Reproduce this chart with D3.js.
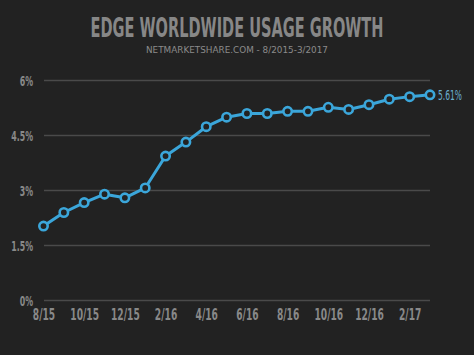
<!DOCTYPE html>
<html><head><meta charset="utf-8">
<script src="https://cdn.jsdelivr.net/npm/d3@7"></script>
<style>
html,body{margin:0;padding:0;background:#222222;}
svg{display:block;}
text{font-family:"DejaVu Sans",sans-serif;}
</style></head>
<body>
<svg id="c" width="474" height="355"></svg>
<script>
const months = ["8/15","9/15","10/15","11/15","12/15","1/16","2/16","3/16","4/16","5/16","6/16","7/16","8/16","9/16","10/16","11/16","12/16","1/17","2/17","3/17"];
const usage = [2.03,2.40,2.67,2.90,2.80,3.07,3.94,4.32,4.74,5.00,5.10,5.10,5.16,5.16,5.27,5.21,5.34,5.49,5.56,5.61];
const xTickLabels = ["8/15","10/15","12/15","2/16","4/16","6/16","8/16","10/16","12/16","2/17"];
const yTicks = [0,1.5,3,4.5,6];
const yTickLabels = ["0%","1.5%","3%","4.5%","6%"];
const title = "EDGE WORLDWIDE USAGE GROWTH";
const subtitle = "NETMARKETSHARE.COM - 8/2015-3/2017";
const endLabel = "5.61%";

const svg = d3.select("#c");
const x = d3.scalePoint().domain(months).range([43.5,430]);
const y = d3.scaleLinear().domain([0,6]).range([300.5,80.5]);
const ky = 0.56, kx = 0.57; // horizontal condensing of label glyphs

svg.append("text").attr("x",237).attr("y",37).attr("text-anchor","middle")
  .attr("fill","#878787").attr("font-size",26).attr("font-weight","bold")
  .attr("textLength",293).attr("lengthAdjust","spacingAndGlyphs").text(title);
svg.append("text").attr("x",237).attr("y",53).attr("text-anchor","middle")
  .attr("fill","#8b8b8b").attr("font-size",9).attr("font-family","Lato, sans-serif")
  .attr("textLength",182).attr("lengthAdjust","spacingAndGlyphs").text(subtitle);

// grid
svg.append("g").selectAll("line").data(yTicks).join("line")
  .attr("x1",44).attr("x2",430).attr("y1",d=>y(d)).attr("y2",d=>y(d))
  .attr("stroke","#4a4a4a").attr("stroke-width",1.5);
const yAxis = d3.axisLeft(y).tickValues(yTicks).tickSize(0)
  .tickFormat((d,i)=>yTickLabels[i]).tickPadding(11);
const gy = svg.append("g").attr("transform","translate(44,0)").call(yAxis);
gy.select(".domain").remove();
gy.selectAll("text").attr("fill","#898989").attr("font-size",14).attr("font-weight","bold")
  .attr("font-family",null).attr("dy","0.35em")
  .attr("x",-11/ky).attr("transform",`scale(${ky},1)`);

const xAxis = d3.axisBottom(x).tickValues(xTickLabels).tickSize(0).tickPadding(7);
const gx = svg.append("g").attr("transform","translate(0,302)").call(xAxis);
gx.select(".domain").remove();
gx.selectAll("text").attr("fill","#898989").attr("font-size",16).attr("font-weight","bold")
  .attr("font-family",null).attr("transform",`scale(${kx},1)`);

const line = d3.line().x((d,i)=>x(months[i])).y(d=>y(d));
svg.append("path").datum(usage).attr("d",line).attr("fill","none")
  .attr("stroke","#3ba6da").attr("stroke-width",3).attr("stroke-linejoin","round");
svg.append("g").selectAll("circle").data(usage).join("circle")
  .attr("cx",(d,i)=>x(months[i])).attr("cy",d=>y(d)).attr("r",4.2)
  .attr("fill","#222222").attr("stroke","#3ba6da").attr("stroke-width",2.6);

svg.append("g")
  .attr("transform",`translate(${x(months[months.length-1])+8},${y(usage[usage.length-1])})`)
  .append("text").attr("dy","0.35em").attr("fill","#6aaed0").attr("font-size",14)
  .attr("transform",`scale(0.54,1)`).text(endLabel);
</script>
</body></html>
